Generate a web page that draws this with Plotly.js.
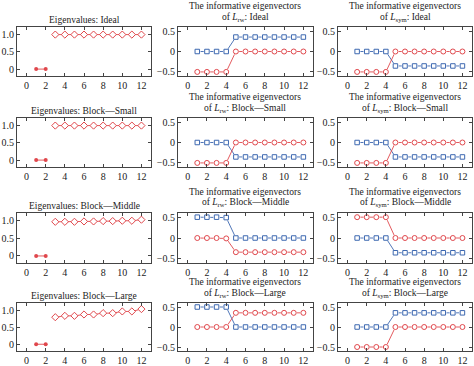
<!DOCTYPE html>
<html>
<head>
<meta charset="utf-8">
<script src="https://cdn.plot.ly/plotly-3.0.1.min.js"></script>
<style>html,body{margin:0;padding:0;background:#fff;}#chart{width:474px;height:366px;}</style>
</head>
<body>
<div id="chart"></div>
<script>
// ---- data ----
const xIdx = [1,2,3,4,5,6,7,8,9,10,11,12];
const xTicks = [0,2,4,6,8,10,12];

const eigIdeal  = [0,0,1,1,1,1,1,1,1,1,1,1];
const eigSmall  = [0,0,1,1,1,1,1,1,1,1,1,1];
const eigMiddle = [0,0,0.97,0.97,0.97,0.98,0.98,0.99,0.99,1.0,1.0,1.03];
const eigLarge  = [0,0,0.80,0.84,0.84,0.88,0.88,0.92,0.92,0.97,0.97,1.04];

const rwIdealBlue   = [0,0,0,0,0.354,0.354,0.354,0.354,0.354,0.354,0.354,0.354];
const rwIdealRed    = [-0.5,-0.5,-0.5,-0.5,0,0,0,0,0,0,0,0];
const symIdealBlue  = [0,0,0,0,-0.354,-0.354,-0.354,-0.354,-0.354,-0.354,-0.354,-0.354];
const symIdealRed   = [-0.5,-0.5,-0.5,-0.5,0,0,0,0,0,0,0,0];

const rwSmallBlue   = [0,0,0,0,-0.354,-0.354,-0.354,-0.354,-0.354,-0.354,-0.354,-0.354];
const rwSmallRed    = [-0.5,-0.5,-0.5,-0.5,0,0,0,0,0,0,0,0];
const symSmallBlue  = [0,0,0,0,-0.354,-0.354,-0.354,-0.354,-0.354,-0.354,-0.354,-0.354];
const symSmallRed   = [-0.5,-0.5,-0.5,-0.5,0,0,0,0,0,0,0,0];

const rwMiddleBlue  = [0.5,0.5,0.5,0.49,0,0,0,0,0,0,0,0];
const rwMiddleRed   = [0,0,0,-0.01,-0.34,-0.34,-0.34,-0.34,-0.34,-0.34,-0.34,-0.34];
const symMiddleBlue = [0,0,0,0,-0.354,-0.354,-0.354,-0.354,-0.354,-0.354,-0.354,-0.354];
const symMiddleRed  = [0.5,0.5,0.5,0.5,0,0,0,0,0,0,0,0];

const rwLargeBlue   = [0.5,0.5,0.5,0.5,0,0,0,0,0,0,0,0];
const rwLargeRed    = [0,0,0,0,0.354,0.354,0.354,0.354,0.354,0.354,0.354,0.354];
const symLargeBlue  = [0,0,0,0,0.354,0.354,0.354,0.354,0.354,0.354,0.354,0.354];
const symLargeRed   = [-0.5,-0.5,-0.5,-0.5,0,0,0,0,0,0,0,0];

const eigTitles = ['Eigenvalues: Ideal','Eigenvalues: Block\u2014Small','Eigenvalues: Block\u2014Middle','Eigenvalues: Block\u2014Large'];
const caseNames = ['Ideal','Block\u2014Small','Block\u2014Middle','Block\u2014Large'];

// ---- styling / layout ----
const RED = '#e0474c', BLUE = '#3d68b0';
const W = 474, H = 366;
const colX = [[17,151],[178,313],[338,472]];
const rowY = [[27,76],[118,167],[213,263],[303,351]];
const FONT = 'Liberation Serif, Times New Roman, serif';
const FS = 10, TFS = 9.5;

const traces = [];
const layout = {
  width: W, height: H, margin: {l:0,r:0,t:0,b:0},
  paper_bgcolor: '#fff', plot_bgcolor: '#fff',
  showlegend: false,
  font: {family: FONT, size: FS, color: '#222'},
  annotations: []
};

function axName(i){ return i===0 ? '' : String(i+1); }

function addAxes(i, col, row, yr, yvals, ytext){
  const n = axName(i);
  const common = {
    ticks: 'inside', ticklen: 3, tickcolor: '#444',
    showline: true, linecolor: '#444', linewidth: 1, mirror: 'ticks',
    showgrid: false, zeroline: false,
    tickfont: {family: FONT, size: FS, color: '#222'}
  };
  layout['xaxis'+n] = Object.assign({
    domain: [colX[col][0]/W, colX[col][1]/W],
    anchor: 'y'+n, range: [-1,13],
    tickvals: xTicks, ticktext: xTicks.map(String)
  }, common);
  layout['yaxis'+n] = Object.assign({
    domain: [1 - rowY[row][1]/H, 1 - rowY[row][0]/H],
    anchor: 'x'+n, range: yr,
    tickvals: yvals, ticktext: ytext
  }, common);
}

function addText(col, row, dy, text){
  layout.annotations.push({
    xref: 'paper', yref: 'paper',
    x: (colX[col][0]+colX[col][1])/2/W,
    y: 1 - (rowY[row][0]-dy)/H,
    xanchor: 'center', yanchor: 'middle',
    text: text, showarrow: false,
    font: {family: FONT, size: TFS, color: '#222'}
  });
}

function addSeries(n, xs, ys, color, symbol, size){
  traces.push({x: xs, y: ys, xaxis:'x'+n, yaxis:'y'+n, mode:'lines',
    line:{color:color, width:0.9}, hoverinfo:'skip'});
  traces.push({x: xs, y: ys, xaxis:'x'+n, yaxis:'y'+n, mode:'markers',
    marker:{symbol:'circle', size:6.5, color:'#fff', line:{width:0}}, hoverinfo:'skip'});
  traces.push({x: xs, y: ys, xaxis:'x'+n, yaxis:'y'+n, mode:'markers',
    marker:{symbol:symbol, size:size, color:color, line:{width:1, color:color}}});
}

const eigData = [eigIdeal, eigSmall, eigMiddle, eigLarge];
const rwBlue = [rwIdealBlue, rwSmallBlue, rwMiddleBlue, rwLargeBlue];
const rwRed  = [rwIdealRed, rwSmallRed, rwMiddleRed, rwLargeRed];
const symBlue = [symIdealBlue, symSmallBlue, symMiddleBlue, symLargeBlue];
const symRed  = [symIdealRed, symSmallRed, symMiddleRed, symLargeRed];

let k = 0;
for (let r = 0; r < 4; r++) {
  {
    const n = axName(k);
    addAxes(k, 0, r, [-0.2, 1.22], [0,0.5,1.0], ['0','0.5','1.0']);
    const ev = eigData[r];
    // two separate groups: the two zero eigenvalues, and the rest
    traces.push({x: xIdx.slice(0,2), y: ev.slice(0,2), xaxis:'x'+n, yaxis:'y'+n, mode:'lines',
      line:{color:RED, width:0.9}, hoverinfo:'skip'});
    traces.push({x: xIdx.slice(2), y: ev.slice(2), xaxis:'x'+n, yaxis:'y'+n, mode:'lines',
      line:{color:RED, width:0.9}, hoverinfo:'skip'});
    traces.push({x: xIdx.slice(2), y: ev.slice(2), xaxis:'x'+n, yaxis:'y'+n, mode:'markers',
      marker:{symbol:'circle', size:6.5, color:'#fff'}, hoverinfo:'skip'});
    traces.push({x: xIdx.slice(0,2), y: ev.slice(0,2), xaxis:'x'+n, yaxis:'y'+n, mode:'markers',
      marker:{symbol:'circle', size:4, color:RED}});
    traces.push({x: xIdx.slice(2), y: ev.slice(2), xaxis:'x'+n, yaxis:'y'+n, mode:'markers',
      marker:{symbol:'diamond-open', size:5.5, color:RED, line:{width:1, color:RED}}});
    addText(0, r, 7, eigTitles[r]);
    k++;
  }
  const sets = [[rwBlue[r], rwRed[r], 'rw'], [symBlue[r], symRed[r], 'sym']];
  for (let c = 0; c < 2; c++) {
    const n = axName(k);
    addAxes(k, c+1, r, [-0.6, 0.6], [-0.5,0,0.5], ['\u22120.5','0','0.5']);
    addSeries(n, xIdx, sets[c][0], BLUE, 'square-open', 4.5);
    addSeries(n, xIdx, sets[c][1], RED, 'circle-open', 5);
    addText(c+1, r, 21, 'The informative eigenvectors');
    addText(c+1, r, 10, 'of <i>L</i><sub>' + sets[c][2] + '</sub>: ' + caseNames[r]);
    k++;
  }
}

Plotly.newPlot('chart', traces, layout, {staticPlot: true, displayModeBar: false});
</script>
</body>
</html>
